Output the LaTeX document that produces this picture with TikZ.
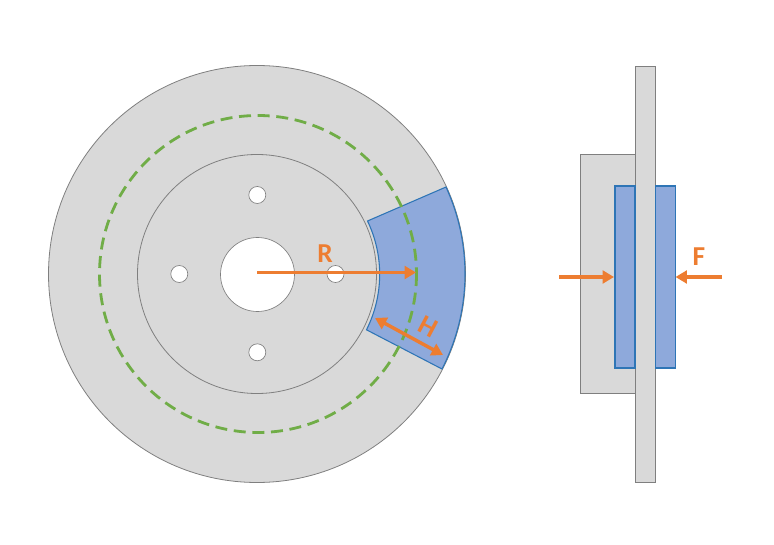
\documentclass[tikz,border=0pt]{standalone}
\usepackage{fontspec}
\setmainfont{Carlito}
\usetikzlibrary{arrows.meta}
\definecolor{discfill}{RGB}{217,217,217}
\definecolor{discline}{RGB}{127,127,127}
\definecolor{padfill}{RGB}{142,169,219}
\definecolor{padline}{RGB}{46,117,182}
\definecolor{force}{RGB}{237,125,49}
\definecolor{track}{RGB}{112,173,71}
\tikzset{
  disc/.style={draw=discline,fill=discfill,line width=0.6pt},
  hole/.style={draw=discline,fill=white,line width=0.5pt},
  pad/.style={draw=padline,fill=padfill,line width=0.8pt},
  forcearrow/.style={draw=force,line width=2.6pt,-{Triangle[length=8.5pt,width=9.5pt]}},
  forcedouble/.style={draw=force,line width=2.6pt,{Triangle[length=8.5pt,width=9.5pt]}-{Triangle[length=8.5pt,width=9.5pt]}},
  forcelabel/.style={text=force,font=\fontsize{20.5}{20.5}\selectfont\bfseries,inner sep=0pt},
  tracklane/.style={draw=track,line width=2.1pt,dash pattern=on 9pt off 5pt}
}
\begin{document}
\begin{tikzpicture}[x=0.75pt,y=-0.75pt]
\useasboundingbox (0,0) rectangle (774,545);
% front view
\draw[disc] (257,274) circle [radius=208.5];
\draw[disc] (257,274) circle [radius=119.5];
\draw[hole] (257.5,274.5) circle [radius=37];
\draw[hole] (257.3,195) circle [radius=8.5];
\draw[hole] (257.3,352.3) circle [radius=8.5];
\draw[hole] (179.3,274) circle [radius=8.5];
\draw[hole] (335.5,274) circle [radius=8.5];
% pad sector (angles measured with y pointing down)
\draw[pad] (367.5,221)
  arc [start angle=-25.7,end angle=26.8,radius=123] coordinate (b)
  -- (442,369)
  arc [start angle=27.2,end angle=-24.7,radius=208]
  -- cycle;
\draw[tracklane] (258,274) circle [radius=158.5];
\coordinate (rs) at (257,272.5);
\coordinate (re) at (416,272.5);
\draw[forcearrow] (rs) -- (re);
\node[forcelabel] (rlabel) at (325,254) {R};
\coordinate (hs) at (375,318);
\coordinate (he) at (443,355);
\draw[forcedouble] (hs) -- (he);
\node[forcelabel,rotate=-28] (hlabel) at (428,327) {H};
% side view
\draw[disc] (580,154) rectangle (635,393);
\draw[disc] (635,66) rectangle (655.5,482);
\draw[pad] (615,186) rectangle (635,368);
\draw[pad] (655.5,186) rectangle (675.5,368);
\coordinate (ls) at (559,277);
\coordinate (le) at (614,277);
\coordinate (fs) at (722,277);
\coordinate (fe) at (675.5,277);
\draw[forcearrow] (ls) -- (le);
\draw[forcearrow] (fs) -- (fe);
\node[forcelabel] (flabel) at (699,257) {F};
\end{tikzpicture}
\end{document}
